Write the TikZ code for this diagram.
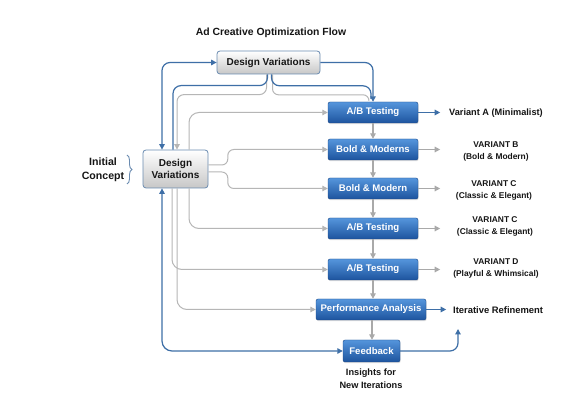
\documentclass[tikz,border=0pt]{standalone}
\usepackage{fontspec}
\setmainfont{Liberation Sans}
\usetikzlibrary{arrows.meta,calc,shadows,decorations.pathreplacing}
\definecolor{bline}{HTML}{3E6FA7}
\definecolor{gline}{HTML}{B6B6B6}
\definecolor{garrow}{HTML}{A9A9A9}
\definecolor{btop}{HTML}{5595DC}
\definecolor{bbot}{HTML}{1D549E}
\definecolor{gbord}{HTML}{6A8BB0}
\definecolor{txt}{HTML}{151515}
\begin{document}
\begin{tikzpicture}[x=1pt,y=-1pt,
  bluebox/.style={rectangle, rounded corners=2pt, top color=btop, bottom color=bbot,
    draw=bbot!85!black, line width=0.4pt, text=white,
    font=\fontsize{9.6}{10}\selectfont\bfseries, minimum width=90pt, minimum height=21pt,
    inner sep=2pt, drop shadow={opacity=0.25, shadow xshift=0.6pt, shadow yshift=-1.2pt}},
  graybox/.style={rectangle, rounded corners=3pt, top color=white, bottom color=black!22,
    draw=gbord, line width=0.8pt, text=txt, align=center,
    font=\fontsize{10}{12}\selectfont\bfseries, inner sep=2pt},
  lbl/.style={text=txt, align=center, font=\fontsize{8.4}{12.5}\selectfont\bfseries, inner sep=1pt},
  bl/.style={draw=bline, line width=1.2pt, rounded corners=8pt},
  gl/.style={draw=gline, line width=1pt, rounded corners=8pt},
  ga/.style={draw=garrow, line width=1.6pt},
  tip/.style={-{Triangle[length=5.5pt,width=5.5pt]}},
  tips/.style={{Triangle[length=5.5pt,width=5.5pt]}-{Triangle[length=5.5pt,width=5.5pt]}}
]
\useasboundingbox (0,0) rectangle (576,403);
\fill[white] (0,0) rectangle (576,403);

% title
\node[text=txt, font=\fontsize{10.4}{12}\selectfont\bfseries] (title) at (271,33) {Ad Creative Optimization Flow};

% boxes
\node[graybox, minimum width=103pt, minimum height=23pt] (top) at (268.5,62.5) {Design Variations};
\node[graybox, minimum width=65pt, minimum height=38pt] (left) at (175.5,169) {Design\\Variations};
\node[lbl, font=\fontsize{10.6}{13.5}\selectfont\bfseries] (init) at (103,170) {Initial\\Concept};
\draw[draw=gbord, line width=0.9pt, decorate, decoration={brace, amplitude=5pt}] (127,155) -- (127,184);

\node[bluebox] (ab1) at (373,112.5) {A/B Testing};
\node[bluebox] (bm1) at (373,149.5) {Bold \& Moderns};
\node[bluebox] (bm2) at (373,188.5) {Bold \& Modern};
\node[bluebox] (ab2) at (373,228.5) {A/B Testing};
\node[bluebox] (ab3) at (373,269.5) {A/B Testing};
\node[bluebox, minimum width=110pt] (perf) at (371,309.5) {Performance Analysis};
\node[bluebox, minimum width=57pt, minimum height=22pt] (fb) at (371.5,351) {Feedback};

% right labels
\node[lbl, anchor=west, font=\fontsize{9.2}{10}\selectfont\bfseries] (va) at (448,113) {Variant A (Minimalist)};
\node[lbl] (vb) at (496,151.5) {VARIANT B\\(Bold \& Modern)};
\node[lbl] (vc1) at (494,190.5) {VARIANT C\\(Classic \& Elegant)};
\node[lbl] (vc2) at (495,226.5) {VARIANT C\\(Classic \& Elegant)};
\node[lbl] (vd) at (496,268.5) {VARIANT D\\(Playful \& Whimsical)};
\node[lbl, anchor=west, font=\fontsize{9.4}{10}\selectfont\bfseries] (iter) at (452,310) {Iterative Refinement};
\node[lbl, font=\fontsize{9.2}{12.5}\selectfont\bfseries] (ins) at (371,378.5) {Insights for\\New Iterations};
\coordinate (fbup) at (458,329);

% vertical gray arrows
\draw[ga, tip] (ab1.south) -- (bm1.north);
\draw[ga, tip] (bm1.south) -- (bm2.north);
\draw[ga, tip] (bm2.south) -- (ab2.north);
\draw[ga, tip] (ab2.south) -- (ab3.north);
\draw[ga, tip] (ab3.south) -- ($(perf.north)+(2,0)$);
\draw[ga, tip] ($(perf.south)+(1,0)$) -- ($(fb.north)+(0.5,0)$);

% right arrows
\draw[bl, tip] (ab1.east) -- ($(ab1.east)+(22,0)$);
\draw[ga, tip, line width=1.3pt] (bm1.east) -- ($(bm1.east)+(22,0)$);
\draw[ga, tip, line width=1.3pt] (bm2.east) -- ($(bm2.east)+(22,0)$);
\draw[ga, tip, line width=1.3pt] (ab2.east) -- ($(ab2.east)+(22,0)$);
\draw[ga, tip, line width=1.3pt] (ab3.east) -- ($(ab3.east)+(22,0)$);
\draw[bl, tip] (perf.east) -- ($(perf.east)+(20,0)$);
\draw[bl, tip] (fb.east) -| (fbup);

% gray connectors from top box
\draw[gl, tip, rounded corners=7pt] ($(top.south)+(-2,0)$) |- ($(left.north)+(1.5,-55)$) -- ($(left.north)+(1.5,0)$);
\draw[gl, rounded corners=6pt] ($(top.south)+(4,0)$) |- ($(ab1.north)+(-4,-7)$) -- ($(ab1.north)+(-4,-1)$);
% blue connectors from top box
\draw[bl] ($(top.south)+(-1,0)$) |- ($(left.north)+(-2.5,-64)$) -- ($(left.north)+(-2.5,0)$);
\draw[bl] ($(top.south)+(3,0)$) |- ($(ab1.north)+(-2,-16)$) -- ($(ab1.north)+(-2,-3)$);
\draw[bl, tip] (top.east) -| (ab1.north);
\draw[bl, tips] ($(left.north)+(-13.5,0)$) |- (top.west);

% gray connectors from left box
\draw[gl, tip, rounded corners=10pt] ($(left.north)+(13.5,0)$) |- (ab1.west);
\draw[gl, tip, rounded corners=6pt] ($(left.east)+(0,-4)$) -| ($(bm1.west)+(-100,0)$) -- (bm1.west);
\draw[gl, tip, rounded corners=6pt] ($(left.east)+(0,3)$) -| ($(bm2.west)+(-100,0)$) -- (bm2.west);
\draw[gl, tip, rounded corners=10pt] ($(left.south)+(13.5,0)$) |- (ab2.west);
\draw[gl, tip, rounded corners=10pt] ($(left.south)+(-3.5,0)$) |- (ab3.west);
\draw[gl, tip, rounded corners=10pt] ($(left.south)+(1.5,0)$) |- (perf.west);
\draw[bl, tips, rounded corners=10pt] ($(left.south)+(-13.5,0)$) |- (fb.west);
\end{tikzpicture}
\end{document}
